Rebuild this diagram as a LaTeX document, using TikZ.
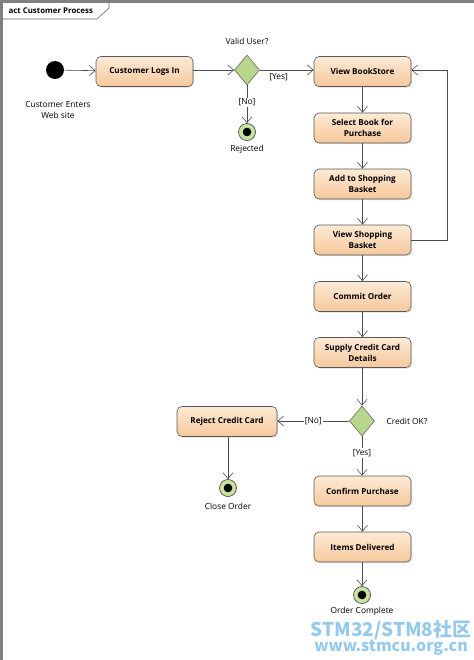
\documentclass[tikz,border=0pt]{standalone}
\usepackage{fontspec}
\setmainfont{Open Sans}
\newfontfamily\cjk{Noto Sans CJK SC}
\usetikzlibrary{arrows.meta,shapes.geometric,shadows}
\definecolor{actop}{RGB}{253,234,214}
\definecolor{acbot}{RGB}{246,200,156}
\definecolor{decfill}{RGB}{184,214,140}
\definecolor{finfill}{RGB}{200,226,160}
\definecolor{wmark}{RGB}{150,202,236}

\begin{document}
\begin{tikzpicture}[x=1bp,y=-1bp]
\tikzstyle{every node}+=[font=\fontsize{8.4}{10.5}\selectfont]
\tikzstyle{action}=[draw=black!65,line width=0.6bp,rounded corners=5bp,top color=actop,bottom color=acbot,
  minimum width=97bp,minimum height=30bp,align=center,font=\fontsize{8.2}{11}\selectfont\bfseries,
  drop shadow={shadow xshift=1.2bp,shadow yshift=-1.2bp,opacity=0.25}]
\tikzstyle{decision}=[diamond,draw=black!60,line width=0.6bp,fill=decfill,inner sep=0pt,minimum width=25bp,minimum height=30bp]
\tikzstyle{final}=[circle,draw=black!70,line width=0.7bp,fill=finfill,minimum size=17bp,inner sep=0pt,
  path picture={\fill[black] (path picture bounding box.center) circle (4.3bp);}]
\tikzstyle{initial}=[circle,fill=black,minimum size=18bp,inner sep=0pt]
\tikzstyle{flow}=[draw=black!70,line width=0.6bp,-{Straight Barb[length=6bp,width=10bp]}]
\tikzstyle{guard}=[fill=white,inner sep=1bp]
\useasboundingbox (0,0) rectangle (474,660);
% frame
\draw [black!50,line width=3bp] (1.5,660) -- (1.5,1.5) -- (474,1.5);
\draw [black!60,line width=0.6bp] (3,19) -- (97,19) -- (109,8) -- (109,3);
\node [anchor=west,font=\fontsize{7.9}{9}\selectfont\bfseries] (title) at (5,10.5) {act Customer Process};
% nodes
\node [initial] (start) at (55,70) {};
\node [align=center] (startlbl) at (58,110) {Customer Enters\\Web site};
\node [action] (login) at (144.5,71.5) {Customer Logs In};
\node [decision] (valid) at (247,70) {};
\node (validlbl) at (247,41) {Valid User?};
\node [final] (rejected) at (247,132) {};
\node (rejectedlbl) at (247,149.5) {Rejected};
\node [action] (store) at (362.5,71.5) {View BookStore};
\node [action] (select) at (362.5,128) {Select Book for\\Purchase};
\node [action] (basket) at (362.5,184) {Add to Shopping\\Basket};
\node [action] (viewbasket) at (362.5,240) {View Shopping\\Basket};
\node [action] (commit) at (362.5,296.5) {Commit Order};
\node [action] (supply) at (362.5,352.5) {Supply Credit Card\\Details};
\node [decision] (credit) at (362,421) {};
\node (creditlbl) at (407,421) {Credit OK?};
\node [action,minimum width=100bp] (reject) at (227,421.5) {Reject Credit Card};
\node [final] (close) at (228,488) {};
\node (closelbl) at (228,506.5) {Close Order};
\node [action] (confirm) at (362.5,491) {Confirm Purchase};
\node [action] (items) at (362.5,547) {Items Delivered};
\node [final] (complete) at (362,595) {};
\node (completelbl) at (362,611) {Order Complete};
% flows
\draw [flow] (start) -- (login);
\draw [flow] (login.east |- valid) -- (valid);
\draw [flow] (valid) -- node [below,pos=0.35] {[Yes]} (store.west |- valid);
\draw [flow] (valid) -- node [guard,pos=0.45] {[No]} (rejected);
\draw [flow] (store) -- (select);
\draw [flow] (select) -- (basket);
\draw [flow] (basket) -- (viewbasket);
\draw [flow] (viewbasket.east) -- (447,240) -- (447,70) -- (store.east |- valid);
\draw [flow] (viewbasket) -- (commit);
\draw [flow] (commit) -- (supply);
\draw [flow] (supply.south -| credit) -- (credit);
\draw [flow] (credit) -- node [guard] {[No]} (reject.east |- credit);
\draw [flow] (reject.south -| close) -- (close);
\draw [flow] (credit) -- node [guard,pos=0.42] {[Yes]} (confirm.north -| credit);
\draw [flow] (confirm) -- (items);
\draw [flow] (items.south -| complete) -- (complete);
% watermark
\node [text=wmark,font=\cjk\bfseries\fontsize{19}{20}\selectfont] (wm1) at (391,630) {STM32/STM8社区};
\node [text=wmark,font=\cjk\bfseries\fontsize{16}{17}\selectfont] (wm2) at (391,648) {www.stmcu.org.cn};
\end{tikzpicture}
\end{document}
